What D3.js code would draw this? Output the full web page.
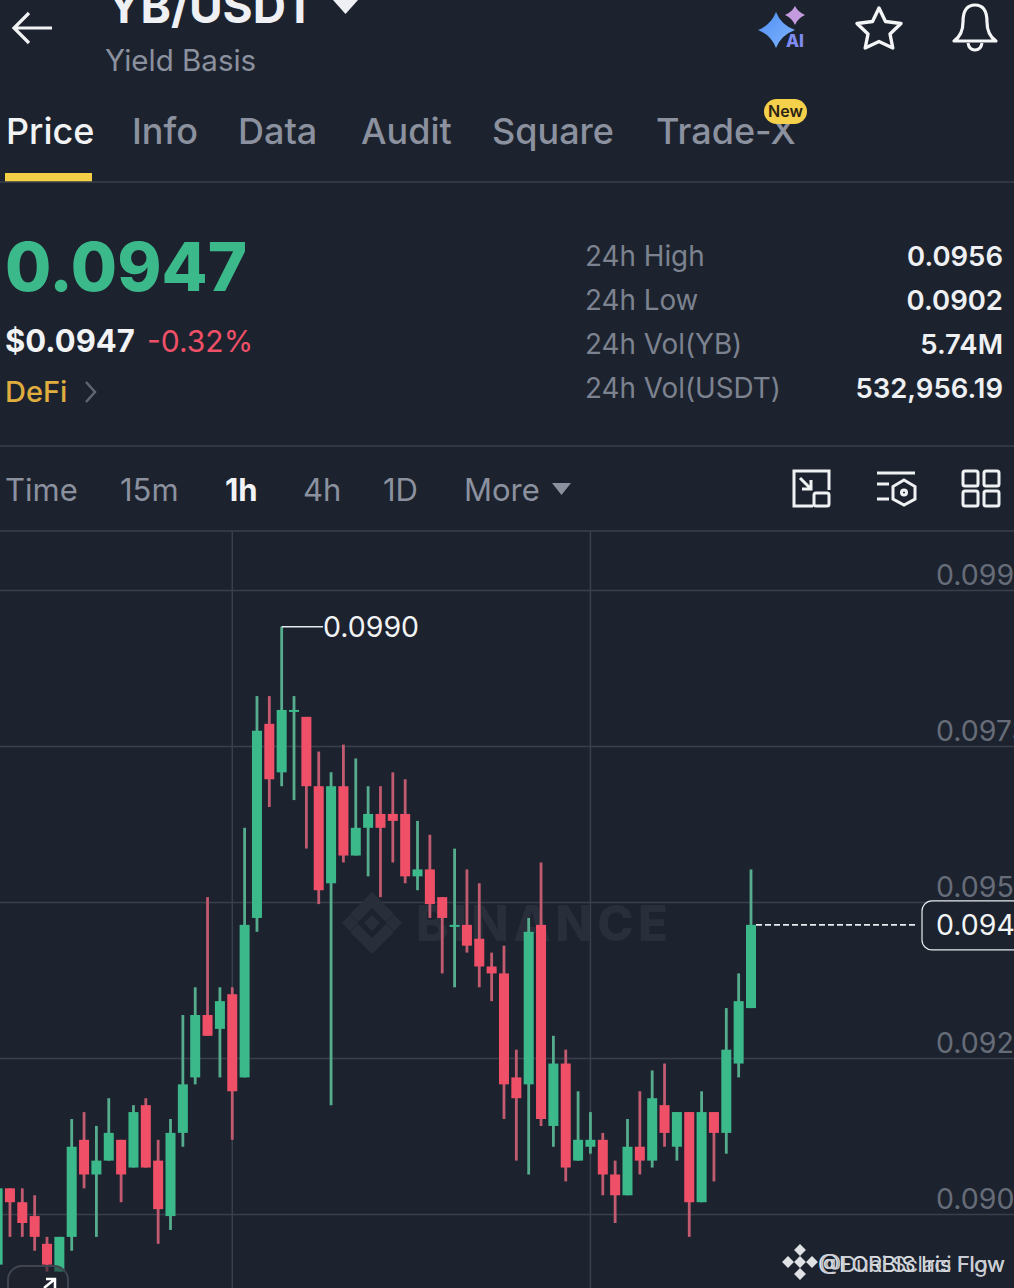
<!DOCTYPE html>
<html>
<head>
    <title>YB/USDT</title>
    <script src="https://d3js.org/d3.v7.min.js"></script>
    <style>
        body, html {
            margin: 0;
            padding: 0;
            background: #1d232e;
            overflow: hidden;
        }

        svg {
            display: block;
        }

        text {
            font-family: Inter, "Open Sans", sans-serif;
        }
    </style>
</head>
<body>
    <svg id="chart" width="1014" height="1288"></svg>

    <script>
        // hourly candles
        const opens = [0.0898, 0.0909, 0.0907, 0.0905, 0.0901, 0.0897, 0.0902, 0.0916, 0.0911, 0.0913, 0.0916, 0.0912,
            0.0921, 0.0913, 0.0905, 0.0917, 0.0925, 0.0934, 0.0932, 0.0937, 0.0925, 0.0948, 0.0976, 0.0969,
            0.0978, 0.0977, 0.0967, 0.0953, 0.0967, 0.0957, 0.0961, 0.0963, 0.0963, 0.0963, 0.0954, 0.0955,
            0.0951, 0.0947, 0.0947, 0.0945, 0.0941, 0.0940, 0.0925, 0.0924, 0.0947, 0.0918, 0.0927, 0.0913,
            0.0915, 0.0916, 0.0911, 0.0908, 0.0915, 0.0913, 0.0921, 0.0915, 0.0920, 0.0907, 0.0920, 0.0917,
            0.0927, 0.0935];
        const highs = [0.0909, 0.0909, 0.0909, 0.0908, 0.0902, 0.0902, 0.0919, 0.0920, 0.0918, 0.0922, 0.0916, 0.0921,
            0.0922, 0.0916, 0.0919, 0.0934, 0.0938, 0.0951, 0.0938, 0.0938, 0.0961, 0.0980, 0.0980, 0.0990,
            0.0980, 0.0977, 0.0972, 0.0969, 0.0973, 0.0971, 0.0967, 0.0967, 0.0969, 0.0968, 0.0962, 0.0960,
            0.0951, 0.0958, 0.0955, 0.0953, 0.0943, 0.0944, 0.0929, 0.0948, 0.0956, 0.0931, 0.0929, 0.0923,
            0.0920, 0.0917, 0.0913, 0.0919, 0.0923, 0.0926, 0.0927, 0.0920, 0.0920, 0.0923, 0.0920, 0.0935,
            0.0940, 0.0955];
        const lows = [0.0898, 0.0902, 0.0902, 0.0900, 0.0897, 0.0897, 0.0900, 0.0909, 0.0902, 0.0913, 0.0907, 0.0912,
            0.0912, 0.0901, 0.0903, 0.0915, 0.0924, 0.0931, 0.0925, 0.0916, 0.0925, 0.0946, 0.0964, 0.0967,
            0.0965, 0.0958, 0.0950, 0.0921, 0.0956, 0.0957, 0.0954, 0.0951, 0.0956, 0.0953, 0.0952, 0.0948,
            0.0940, 0.0938, 0.0943, 0.0938, 0.0936, 0.0919, 0.0913, 0.0911, 0.0918, 0.0915, 0.0910, 0.0913,
            0.0914, 0.0908, 0.0904, 0.0908, 0.0911, 0.0912, 0.0915, 0.0913, 0.0902, 0.0907, 0.0910, 0.0914,
            0.0925, 0.0935];
        const closes = [0.0909, 0.0907, 0.0904, 0.0902, 0.0898, 0.0902, 0.0915, 0.0911, 0.0913, 0.0917, 0.0911, 0.0920,
            0.0912, 0.0906, 0.0917, 0.0924, 0.0934, 0.0931, 0.0936, 0.0923, 0.0947, 0.0975, 0.0968, 0.0978,
            0.0978, 0.0967, 0.0952, 0.0967, 0.0957, 0.0961, 0.0963, 0.0961, 0.0962, 0.0954, 0.0955, 0.0950,
            0.0948, 0.0947, 0.0944, 0.0941, 0.0940, 0.0924, 0.0922, 0.0946, 0.0919, 0.0927, 0.0912, 0.0916,
            0.0916, 0.0911, 0.0908, 0.0915, 0.0913, 0.0922, 0.0917, 0.0920, 0.0907, 0.0920, 0.0917, 0.0929,
            0.0936, 0.0947];

        const gridPrices = [0.09053, 0.09278, 0.09503, 0.09728, 0.09953];
        const gridCandles = [19, 48];
        const lastPrice = 0.0947;
        const topPrice = 0.0990;
        const topCandle = 23;

        const tabs = ["Price", "Info", "Data", "Audit", "Square", "Trade-X"];
        const tabX = [6, 132, 238, 361, 492, 656];
        const intervals = ["Time", "15m", "1h", "4h", "1D", "More"];
        const intervalX = [5, 120, 225, 303, 383, 464];
        const statLabels = ["24h High", "24h Low", "24h Vol(YB)", "24h Vol(USDT)"];
        const statValues = ["0.0956", "0.0902", "5.74M", "532,956.19"];

        const bg = "#1d232e";
        const green = "#3cb98a";
        const red = "#ef5068";
        const greenWick = "#55ad8e";
        const redWick = "#c25a70";
        const lineCol = "#3a404b";
        const muted = "#8b919e";

        const svg = d3.select("#chart");
        svg.append("rect").attr("width", 1014).attr("height", 1288).attr("fill", bg);

        const x = d3.scaleLinear().domain([0, 61]).range([-2.4, 751]);
        const y = d3.scaleLinear().domain([gridPrices[0], gridPrices[4]]).range([1214, 590]);

        // grid + price axis
        const yAxis = svg.append("g")
            .call(d3.axisRight(y).tickValues(gridPrices).tickSize(1014).tickFormat(d3.format(".4f")));
        yAxis.select(".domain").remove();
        yAxis.selectAll("line").attr("stroke", lineCol).attr("stroke-width", 1.5);
        yAxis.selectAll("text")
            .attr("x", 936).attr("dy", -5.5)
            .attr("fill", "#666c78")
            .attr("font-size", 28.5)
            .style("font-family", "Inter, sans-serif");

        svg.selectAll(".vgrid")
            .data(gridCandles)
            .enter().append("line")
            .attr("class", "vgrid")
            .attr("x1", d => x(d)).attr("x2", d => x(d))
            .attr("y1", 531).attr("y2", 1288)
            .attr("stroke", lineCol).attr("stroke-width", 1.5);

        // watermark
        const mark = svg.append("g").attr("fill", "#282e3a");
        [[350, 923], [394, 923], [372, 923]].forEach(p => {
            mark.append("path").attr("d", d3.symbol(d3.symbolSquare, 130)())
                .attr("transform", `translate(${p[0]},${p[1]}) rotate(45)`);
        });
        mark.append("path").attr("d", "M372,892L394,914L386,922L372,908L358,922L350,914Z");
        mark.append("path").attr("d", "M372,954L394,932L386,924L372,938L358,924L350,932Z");
        mark.append("text").text("BINANCE")
            .attr("x", 416).attr("y", 941)
            .attr("font-size", 49).attr("font-weight", 800)
            .attr("textLength", 252);

        // candles
        const candles = d3.range(opens.length).map(i => ({
            i: i, o: opens[i], h: highs[i], l: lows[i], c: closes[i]
        }));
        const up = d => d.c >= d.o;

        const candle = svg.selectAll(".candle")
            .data(candles)
            .enter().append("g")
            .attr("class", "candle");

        candle.append("line")
            .attr("x1", d => x(d.i)).attr("x2", d => x(d.i))
            .attr("y1", d => y(d.h)).attr("y2", d => y(d.l))
            .attr("stroke", d => up(d) ? greenWick : redWick)
            .attr("stroke-width", 2.8);

        candle.append("rect")
            .attr("x", d => x(d.i) - 5)
            .attr("width", 10)
            .attr("y", d => y(Math.max(d.o, d.c)))
            .attr("height", d => Math.max(2, Math.abs(y(d.o) - y(d.c))))
            .attr("fill", d => up(d) ? green : red);

        // high marker
        svg.append("path")
            .attr("d", `M${x(topCandle)},${y(topPrice)}H323`)
            .attr("stroke", "#e8eaee").attr("stroke-width", 1.5).attr("fill", "none");
        svg.append("text").text(d3.format(".4f")(topPrice))
            .attr("x", 323).attr("y", y(topPrice) + 10)
            .attr("fill", "#f2f3f5").attr("font-size", 28.5);

        // last price
        svg.append("line")
            .attr("x1", x(61) + 5).attr("x2", 918)
            .attr("y1", y(lastPrice)).attr("y2", y(lastPrice))
            .attr("stroke", "#e8eaee").attr("stroke-width", 1.7)
            .attr("stroke-dasharray", "6,3");
        svg.append("rect")
            .attr("x", 922).attr("y", y(lastPrice) - 24)
            .attr("width", 120).attr("height", 49).attr("rx", 10)
            .attr("fill", bg).attr("stroke", "#e8eaee").attr("stroke-width", 1.2);
        svg.append("text").text(d3.format(".4f")(lastPrice))
            .attr("x", 936).attr("y", y(lastPrice) + 10)
            .attr("fill", "#f2f3f5").attr("font-size", 28.5);

        // zoom button, bottom left
        svg.append("rect")
            .attr("x", 8).attr("y", 1266).attr("width", 60).attr("height", 60).attr("rx", 14)
            .attr("fill", bg).attr("fill-opacity", 0.55).attr("stroke", "#3f4550").attr("stroke-width", 2);
        svg.append("path")
            .attr("d", "M44,1288L55,1279M46,1279H55V1288")
            .attr("stroke", "#fff").attr("stroke-width", 2.5).attr("fill", "none");

        // header
        function label(str, px, py, size, fill, weight, anchor) {
            return svg.append("text").text(str)
                .attr("x", px).attr("y", py)
                .attr("font-size", size)
                .attr("fill", fill)
                .attr("font-weight", weight || 400)
                .attr("text-anchor", anchor || "start");
        }

        label("YB/USDT", 107, 23, 46, "#eef0f3", 700);
        svg.append("path").attr("d", "M333,0H358L345.5,14Z").attr("fill", "#eef0f3");
        label("Yield Basis", 105, 71, 29.5, muted);
        svg.append("path")
            .attr("d", "M52,28H15M29,13L14,28L29,43")
            .attr("stroke", "#f1f2f4").attr("stroke-width", 3.2).attr("fill", "none");

        // AI icon
        const defs = svg.append("defs");
        const grad = defs.append("linearGradient").attr("id", "aiGrad")
            .attr("x1", 0).attr("y1", 0).attr("x2", 1).attr("y2", 1);
        grad.append("stop").attr("offset", 0).attr("stop-color", "#4f8ff7");
        grad.append("stop").attr("offset", 1).attr("stop-color", "#7fb4fb");
        svg.append("path").attr("d", "M776,12Q781,25 795,30Q781,35 776,48Q771,35 758,30Q771,25 776,12Z").attr("fill", "url(#aiGrad)");
        svg.append("path").attr("d", "M795,6Q798,12 805,15Q798,18 795,25Q792,18 785,15Q792,12 795,6Z").attr("fill", "#c59be0");
        label("AI", 786, 47, 17, "#7f8cf0", 800);

        // star
        svg.append("path")
            .attr("d", "M879,8L885.5,21.5L901,23.5L890,34L892.8,48L879,41.5L865.2,48L868,34L857,23.5L872.5,21.5Z")
            .attr("stroke", "#f4f5f7").attr("stroke-width", 3.4).attr("stroke-linejoin", "round").attr("fill", "none");

        // bell
        svg.append("path")
            .attr("d", "M954,41Q963,35 963,22Q963,5 975,5Q987,5 987,22Q987,35 996,41Z")
            .attr("stroke", "#f4f5f7").attr("stroke-width", 3.2).attr("stroke-linejoin", "round").attr("fill", "none");
        svg.append("path")
            .attr("d", "M968,43Q969,50 975,50Q981,50 982,43")
            .attr("stroke", "#f4f5f7").attr("stroke-width", 3).attr("fill", "none");

        // tabs
        tabs.forEach((t, i) => {
            label(t, tabX[i], 144, 36, i === 0 ? "#f2f3f5" : muted, 500);
        });
        svg.append("rect").attr("x", 5).attr("y", 173).attr("width", 87).attr("height", 9).attr("fill", "#f5cf45");
        svg.append("rect").attr("x", 764).attr("y", 99).attr("width", 43).attr("height", 25).attr("rx", 12.5).attr("fill", "#f5d04a");
        label("New", 785.5, 117, 16, "#2a2415", 600, "middle");

        // separators
        [182, 446, 531].forEach(ly => {
            svg.append("line").attr("x1", 0).attr("x2", 1014).attr("y1", ly).attr("y2", ly)
                .attr("stroke", lineCol).attr("stroke-width", 1.5);
        });

        // price block
        label("0.0947", 5, 291, 67, green, 800);
        label("$0.0947", 5, 352, 31, "#f2f3f5", 700);
        label("-0.32%", 147, 352, 30, red, 400);
        label("DeFi", 5, 402, 29, "#e0ad3f", 500);
        svg.append("path").attr("d", "M86,382L95,392L86,402")
            .attr("stroke", "#5f6672").attr("stroke-width", 2.5).attr("fill", "none");

        statLabels.forEach((t, i) => {
            label(t, 585, 266 + i * 44, 27.8, "#7c828f");
            label(statValues[i], 1003, 266 + i * 44, 27.5, "#eef0f3", 600, "end");
        });

        // interval row
        intervals.forEach((t, i) => {
            label(t, intervalX[i], 501, 31, t === "1h" ? "#f2f3f5" : muted, t === "1h" ? 700 : 400);
        });
        svg.append("path").attr("d", "M552,483H571L561.5,495Z").attr("fill", muted);

        const icons = svg.append("g")
            .attr("stroke", "#f0f1f3").attr("stroke-width", 3).attr("fill", "none");
        icons.append("path").attr("d", "M829,490V471H794V506H813");
        icons.append("rect").attr("x", 814).attr("y", 493).attr("width", 15).attr("height", 13).attr("rx", 2);
        icons.append("path").attr("d", "M800,478L811,489M811,480V489H802");
        icons.append("path").attr("d", "M877,473H915M877,484H889M877,499H889");
        icons.append("path").attr("d", "M904,480L915,486.5V499L904,505L893,499V486.5Z");
        icons.append("circle").attr("cx", 904).attr("cy", 492.5).attr("r", 2.5);
        [[963, 471], [984, 471], [963, 491], [984, 491]].forEach(p => {
            icons.append("rect").attr("x", p[0]).attr("y", p[1]).attr("width", 15).attr("height", 15).attr("rx", 2);
        });

        // source stamp, two overlapping strings in the picture
        const stamp = svg.append("g").attr("fill", "#dfe1e5");
        [[800, 1250], [788, 1262], [812, 1262], [800, 1274], [800, 1262]].forEach(p => {
            stamp.append("path").attr("d", d3.symbol(d3.symbolSquare, 70)())
                .attr("transform", `translate(${p[0]},${p[1]}) rotate(45)`);
        });
        label("@FORBIS Iris Flow", 818, 1272, 22, "#dfe1e5").attr("textLength", 187);
        label("@Dubi Sclaci Flgw", 820, 1272, 22, "#c9ccd2").attr("textLength", 185);
    </script>
</body>
</html>
